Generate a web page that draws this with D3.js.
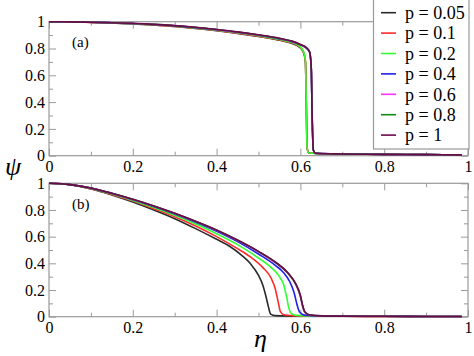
<!DOCTYPE html>
<html><head><meta charset="utf-8">
<script src="https://cdn.jsdelivr.net/npm/d3@7"></script>
</head>
<body style="margin:0;background:#fff">
<svg id="chart" width="474" height="356" style="display:block"></svg>
<script>
// ---------- data ----------
const seriesLabels = ["p = 0.05","p = 0.1","p = 0.2","p = 0.4","p = 0.6","p = 0.8","p = 1"];
const seriesColors = ["#2a2a2a","#ff2a2a","#33ff33","#2020e6","#ff33ff","#138a13","#6a0a4c"];
const xTicks = [0,0.2,0.4,0.6,0.8,1];
const yTicks = [0,0.2,0.4,0.6,0.8,1];

// panel (a): eta values and psi values per series
const etaA1 = [0,0.05,0.1,0.15,0.2,0.25,0.3,0.35,0.4,0.45,0.5,0.55,0.58,0.6,0.608,0.612,0.614,0.616,0.62,0.65,0.7,0.8,0.9,0.985];
const psiA_p005 = [1,0.999,0.995,0.99,0.984,0.975,0.964,0.95,0.933,0.913,0.89,0.861,0.838,0.805,0.765,0.70,0.40,0.06,0.02,0.015,0.012,0.01,0.008,0.006];
const psiA_p01  = [1,0.999,0.995,0.991,0.985,0.976,0.965,0.951,0.935,0.915,0.892,0.864,0.841,0.808,0.768,0.705,0.40,0.06,0.02,0.015,0.012,0.01,0.008,0.006];
const psiA_p02  = [1,0.999,0.996,0.991,0.986,0.977,0.967,0.953,0.937,0.917,0.895,0.867,0.844,0.811,0.772,0.71,0.40,0.06,0.02,0.015,0.012,0.01,0.008,0.006];
const etaA2 = [0,0.05,0.1,0.15,0.2,0.25,0.3,0.35,0.4,0.45,0.5,0.55,0.58,0.6,0.615,0.622,0.626,0.628,0.631,0.636,0.7,0.8,0.9,0.985];
const psiA_p04  = [1,0.999,0.996,0.992,0.987,0.979,0.969,0.956,0.94,0.921,0.899,0.872,0.851,0.826,0.80,0.77,0.65,0.3,0.04,0.018,0.013,0.01,0.008,0.006];
const psiA_p06  = [1,0.999,0.996,0.992,0.987,0.979,0.97,0.957,0.941,0.922,0.9,0.874,0.853,0.828,0.802,0.772,0.65,0.3,0.04,0.018,0.013,0.01,0.008,0.006];
const psiA_p08  = [1,0.999,0.996,0.992,0.987,0.98,0.97,0.957,0.942,0.923,0.901,0.875,0.854,0.829,0.803,0.774,0.65,0.3,0.04,0.018,0.013,0.01,0.008,0.006];
const psiA_p1   = [1,0.999,0.996,0.992,0.988,0.98,0.971,0.958,0.942,0.924,0.902,0.876,0.855,0.83,0.805,0.775,0.65,0.3,0.04,0.018,0.013,0.01,0.008,0.006];

// panel (b)
const etaB_p005 = [0,0.05,0.1,0.15,0.2,0.25,0.3,0.35,0.4,0.43,0.46,0.48,0.5,0.51,0.518,0.524,0.529,0.54,0.6,0.7,0.8,0.9,0.985];
const psiB_p005 = [1,0.99,0.958,0.913,0.86,0.80,0.735,0.66,0.58,0.53,0.46,0.40,0.31,0.24,0.15,0.07,0.02,0.008,0.004,0.003,0.002,0.002,0.002];
const etaB_p01  = [0,0.05,0.1,0.15,0.2,0.25,0.3,0.35,0.4,0.45,0.48,0.51,0.53,0.54,0.547,0.552,0.56,0.58,0.65,0.7,0.8,0.9,0.985];
const psiB_p01  = [1,0.99,0.96,0.917,0.867,0.81,0.75,0.68,0.60,0.51,0.45,0.37,0.29,0.21,0.11,0.04,0.015,0.008,0.004,0.003,0.002,0.002,0.002];
const etaB_p02  = [0,0.05,0.1,0.15,0.2,0.25,0.3,0.35,0.4,0.45,0.5,0.53,0.55,0.56,0.567,0.572,0.578,0.59,0.65,0.7,0.8,0.9,0.985];
const psiB_p02  = [1,0.99,0.962,0.92,0.872,0.818,0.76,0.695,0.622,0.54,0.44,0.37,0.30,0.24,0.15,0.07,0.025,0.01,0.005,0.004,0.003,0.002,0.002];
const etaB_p04  = [0,0.05,0.1,0.15,0.2,0.25,0.3,0.35,0.4,0.45,0.5,0.54,0.56,0.575,0.585,0.592,0.598,0.61,0.65,0.7,0.8,0.9,0.985];
const psiB_p04  = [1,0.99,0.964,0.923,0.877,0.826,0.77,0.708,0.64,0.563,0.47,0.385,0.33,0.26,0.18,0.09,0.035,0.012,0.006,0.004,0.003,0.002,0.002];
const etaB_p06  = [0,0.05,0.1,0.15,0.2,0.25,0.3,0.35,0.4,0.45,0.5,0.54,0.57,0.59,0.6,0.605,0.61,0.62,0.65,0.7,0.8,0.9,0.985];
const psiB_p06  = [1,0.99,0.965,0.924,0.879,0.829,0.774,0.713,0.647,0.572,0.486,0.405,0.325,0.235,0.15,0.08,0.035,0.015,0.006,0.004,0.003,0.002,0.002];
const etaB_p08  = [0,0.05,0.1,0.15,0.2,0.25,0.3,0.35,0.4,0.45,0.5,0.54,0.57,0.59,0.6,0.605,0.61,0.62,0.65,0.7,0.8,0.9,0.985];
const psiB_p08  = [1,0.99,0.965,0.925,0.88,0.83,0.775,0.714,0.649,0.574,0.488,0.408,0.328,0.238,0.155,0.085,0.038,0.015,0.006,0.004,0.003,0.002,0.002];
const etaB_p1   = [0,0.05,0.1,0.15,0.2,0.25,0.3,0.35,0.4,0.45,0.5,0.54,0.57,0.59,0.6,0.605,0.61,0.62,0.65,0.7,0.8,0.9,0.985];
const psiB_p1   = [1,0.99,0.965,0.925,0.88,0.83,0.775,0.715,0.65,0.575,0.49,0.41,0.33,0.24,0.16,0.09,0.04,0.015,0.006,0.004,0.003,0.002,0.002];

const panelA = [[etaA1,psiA_p005],[etaA1,psiA_p01],[etaA1,psiA_p02],[etaA2,psiA_p04],[etaA2,psiA_p06],[etaA2,psiA_p08],[etaA2,psiA_p1]];
const panelB = [[etaB_p005,psiB_p005],[etaB_p01,psiB_p01],[etaB_p02,psiB_p02],[etaB_p04,psiB_p04],[etaB_p06,psiB_p06],[etaB_p08,psiB_p08],[etaB_p1,psiB_p1]];

// ---------- drawing ----------
const FONT = '"Liberation Serif"';
const svg = d3.select("#chart");
const x = d3.scaleLinear().domain([0,1]).range([49,468]);
const frameColor = "#9a9a9a";
const minorVals = [0.1,0.3,0.5,0.7,0.9];

function drawPanel(top, bottom, series, tag){
  const y = d3.scaleLinear().domain([0,1]).range([bottom, top]);
  const g = svg.append("g");
  const styleAxis = sel => {
    sel.attr("font-family", "Liberation Serif").attr("font-size", 16);
    sel.select(".domain").remove();
    sel.selectAll("line").attr("stroke", frameColor).attr("stroke-width",1);
    sel.selectAll("text").style("font-family",FONT).style("font-size","16px").attr("fill","#000");
  };
  g.append("g").attr("transform",`translate(0,${bottom})`)
    .call(d3.axisBottom(x).tickValues(xTicks).tickFormat(d3.format("~g")).tickSizeInner(-7).tickSizeOuter(0).tickPadding(5))
    .call(styleAxis);
  g.append("g").attr("transform",`translate(0,${bottom})`)
    .call(d3.axisBottom(x).tickValues(minorVals).tickFormat("").tickSizeInner(-4).tickSizeOuter(0))
    .call(styleAxis);
  g.append("g").attr("transform",`translate(0,${top})`)
    .call(d3.axisTop(x).tickValues(xTicks).tickFormat("").tickSizeInner(-7).tickSizeOuter(0))
    .call(styleAxis);
  g.append("g").attr("transform",`translate(0,${top})`)
    .call(d3.axisTop(x).tickValues(minorVals).tickFormat("").tickSizeInner(-4).tickSizeOuter(0))
    .call(styleAxis);
  g.append("g").attr("transform",`translate(${x(0)},0)`)
    .call(d3.axisLeft(y).tickValues(yTicks).tickFormat(d3.format("~g")).tickSizeInner(-7).tickSizeOuter(0).tickPadding(4))
    .call(styleAxis);
  g.append("g").attr("transform",`translate(${x(0)},0)`)
    .call(d3.axisLeft(y).tickValues(minorVals).tickFormat("").tickSizeInner(-4).tickSizeOuter(0))
    .call(styleAxis);
  g.append("g").attr("transform",`translate(${x(1)},0)`)
    .call(d3.axisRight(y).tickValues(yTicks).tickFormat("").tickSizeInner(-7).tickSizeOuter(0))
    .call(styleAxis);
  g.append("g").attr("transform",`translate(${x(1)},0)`)
    .call(d3.axisRight(y).tickValues(minorVals).tickFormat("").tickSizeInner(-4).tickSizeOuter(0))
    .call(styleAxis);
  g.append("rect").attr("x",x(0)).attr("y",top).attr("width",x(1)-x(0)).attr("height",bottom-top)
    .attr("fill","none").attr("stroke",frameColor).attr("stroke-width",1.2);
  const line = d3.line().x(d=>x(d[0])).y(d=>y(d[1])).curve(d3.curveMonotoneX);
  series.forEach((s,i)=>{
    const pts = s[0].map((e,k)=>[e,s[1][k]]);
    g.append("path").attr("d",line(pts)).attr("fill","none")
      .attr("stroke",seriesColors[i]).attr("stroke-width",1.6).attr("stroke-linejoin","round");
  });
  g.append("text").attr("x",x(0.055)).attr("y",y(0.85)).attr("dy","0.35em")
    .style("font-family",FONT).style("font-size","15px").text(tag);
}

drawPanel(21.7, 155.7, panelA, "(a)");
drawPanel(183.3, 316.7, panelB, "(b)");

svg.append("text").attr("x",5).attr("y",175).style("font-family",FONT).style("font-size","26px").style("font-style","italic").text("ψ");
svg.append("text").attr("x",254).attr("y",347).style("font-family",FONT).style("font-size","26px").style("font-style","italic").text("η");

const lg = svg.append("g");
lg.append("rect").attr("x",373.5).attr("y",-2).attr("width",95.5).attr("height",151)
  .attr("fill","#fff").attr("stroke",frameColor).attr("stroke-width",1.2);
seriesLabels.forEach((lab,i)=>{
  const yy = 12.7 + i*20.4;
  lg.append("line").attr("x1",381).attr("x2",396).attr("y1",yy).attr("y2",yy)
    .attr("stroke",seriesColors[i]).attr("stroke-width",1.6);
  lg.append("text").attr("x",405).attr("y",yy).attr("dy","0.35em")
    .style("font-family",FONT).style("font-size","18px").text(lab);
});
</script>
</body></html>
